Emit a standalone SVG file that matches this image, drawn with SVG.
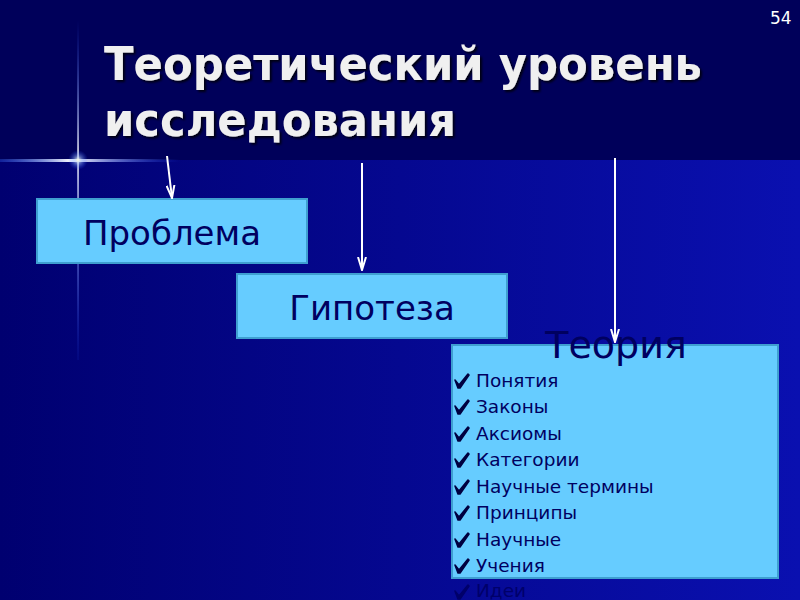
<svg xmlns="http://www.w3.org/2000/svg" width="800" height="600" viewBox="0 0 800 600">
<defs>
<linearGradient id="bg" x1="0" y1="0" x2="1" y2="0">
<stop offset="0" stop-color="#000070"/>
<stop offset="1" stop-color="#0a10b0"/>
</linearGradient>
<linearGradient id="hl" x1="0" y1="0" x2="1" y2="0">
<stop offset="0" stop-color="#3a70ff" stop-opacity="0.3"/>
<stop offset="0.4" stop-color="#ffffff" stop-opacity="1"/>
<stop offset="1" stop-color="#2050ff" stop-opacity="0"/>
</linearGradient>
<linearGradient id="vl" x1="0" y1="0" x2="0" y2="1">
<stop offset="0" stop-color="#2050ff" stop-opacity="0"/>
<stop offset="0.4" stop-color="#ffffff" stop-opacity="1"/>
<stop offset="1" stop-color="#2050ff" stop-opacity="0.1"/>
</linearGradient>
<radialGradient id="glow">
<stop offset="0" stop-color="#ffffe0" stop-opacity="1"/>
<stop offset="0.4" stop-color="#a0c0ff" stop-opacity="0.5"/>
<stop offset="1" stop-color="#2050ff" stop-opacity="0"/>
</radialGradient>
<marker id="ah" markerWidth="14" markerHeight="10" refX="13" refY="5" orient="auto" markerUnits="userSpaceOnUse" viewBox="0 0 14 10">
<path d="M0,1 L13,5 L0,9" fill="none" stroke="#ffffff" stroke-width="2"/>
</marker>
<filter id="sh" x="-5%" y="-5%" width="110%" height="120%">
<feDropShadow dx="2" dy="2" stdDeviation="1" flood-color="#000000" flood-opacity="0.8"/>
</filter>
<path id="ck" d="M0,-6 L4,-1 L13,-12 L14,-11 L5,2 L3,2 Z"/>
</defs>
<style>
.box{fill:#66ccff;stroke:#3f9fd0;stroke-width:2}
.lbl{font-family:"DejaVu Sans",Verdana,sans-serif;fill:#000060;text-anchor:middle}
.item{font-family:"DejaVu Sans",Verdana,sans-serif;font-size:18.5px;fill:#000060}
.chk{fill:#000040;stroke:#000040;stroke-width:1.6;stroke-linejoin:round}
.conn{stroke:#ffffff;stroke-width:2;fill:none;marker-end:url(#ah)}
.title{font-family:"DejaVu Sans",Verdana,sans-serif;font-weight:bold;font-size:46px;fill:#f0f0f0}
</style>
<rect x="0" y="0" width="800" height="600" fill="url(#bg)"/>
<rect x="0" y="0" width="800" height="160" fill="#00005a"/>
<rect x="0" y="159" width="180" height="3" fill="url(#hl)"/>
<rect x="77.3" y="20" width="1.5" height="340" fill="url(#vl)"/>
<circle cx="78" cy="160" r="10" fill="url(#glow)"/>
<text x="770" y="24" font-family="DejaVu Sans,sans-serif" font-size="17" fill="#ffffff">54</text>
<g filter="url(#sh)">
<text class="title" x="104" y="80" textLength="598" lengthAdjust="spacingAndGlyphs">Теоретический уровень</text>
<text class="title" x="104" y="136" textLength="352" lengthAdjust="spacingAndGlyphs">исследования</text>
</g>
<g id="problem">
<rect class="box" x="37" y="199" width="270" height="64"/>
<text class="lbl" x="172" y="245" font-size="34">Проблема</text>
</g>
<g id="hypothesis">
<rect class="box" x="237" y="274" width="270" height="64"/>
<text class="lbl" x="372" y="320" font-size="34">Гипотеза</text>
</g>
<g id="theory">
<rect class="box" x="452" y="345" width="326" height="233"/>
<text class="lbl" x="616" y="358" font-size="38">Теория</text>
<g class="item">
<text x="476" y="387">Понятия</text>
<text x="476" y="413">Законы</text>
<text x="476" y="440">Аксиомы</text>
<text x="476" y="466">Категории</text>
<text x="476" y="493">Научные термины</text>
<text x="476" y="519">Принципы</text>
<text x="476" y="546">Научные</text>
<text x="476" y="572">Учения</text>
<text x="476" y="597" fill="#00006a">Идеи</text>
</g>
<g class="chk">
<use href="#ck" x="455" y="386"/>
<use href="#ck" x="455" y="412"/>
<use href="#ck" x="455" y="439"/>
<use href="#ck" x="455" y="465"/>
<use href="#ck" x="455" y="492"/>
<use href="#ck" x="455" y="518"/>
<use href="#ck" x="455" y="545"/>
<use href="#ck" x="455" y="571"/>
<use href="#ck" x="455" y="597" style="fill:#00006a;stroke:#00006a"/>
</g>
</g>
<g id="connectors">
<path class="conn" d="M167,156 L172,198"/>
<path class="conn" d="M362,163 L362,270"/>
<path class="conn" d="M615,158 L615,342"/>
</g>
</svg>
